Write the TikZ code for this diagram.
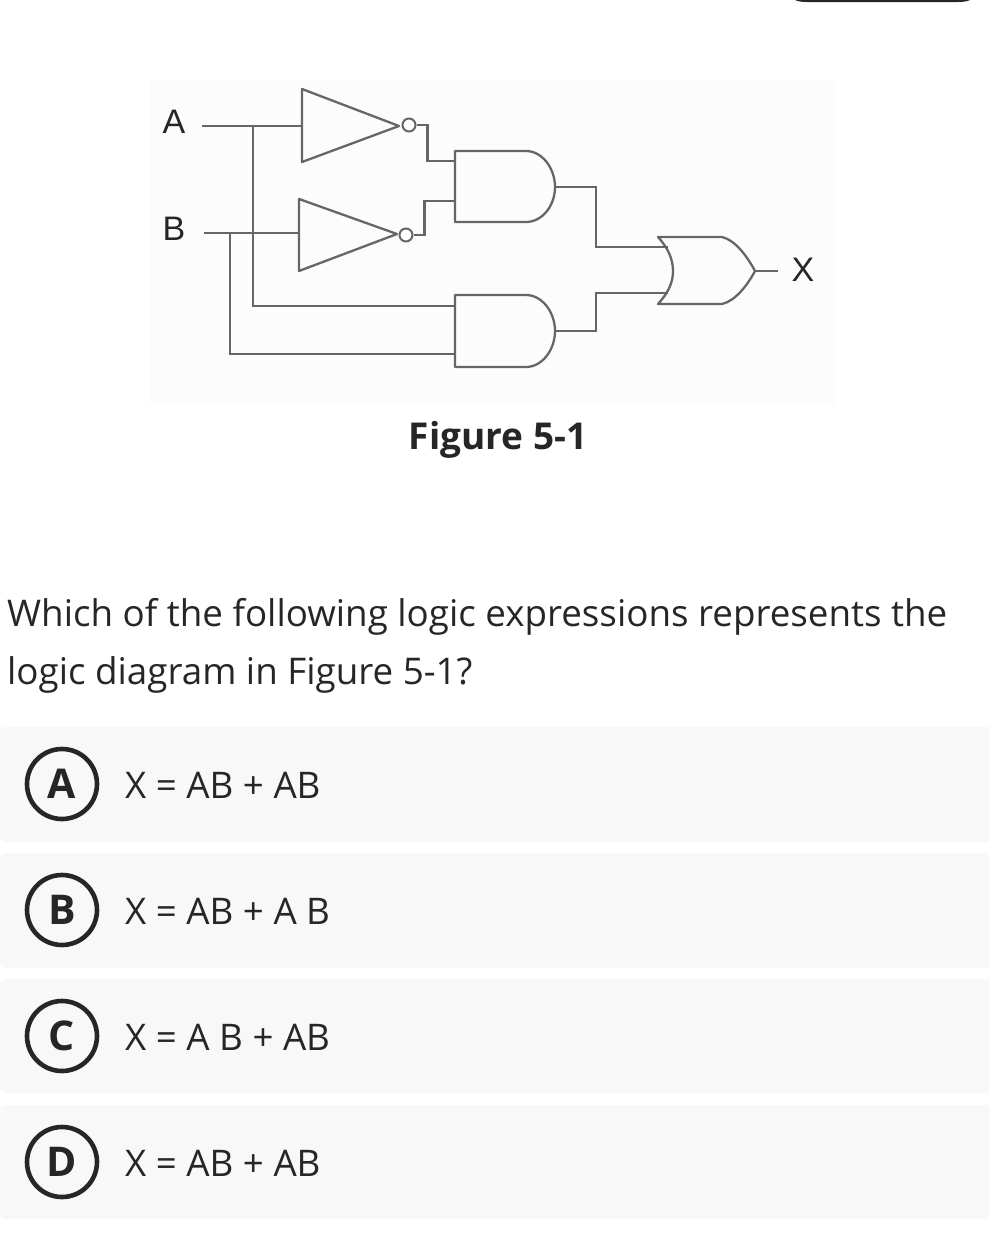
\documentclass[tikz,border=0pt]{standalone}
\usepackage{fontspec}
\setmainfont{Open Sans}
\newfontfamily\gatefont{Liberation Sans}
\newcommand{\fsz}[1]{\fontsize{#1}{#1}\selectfont}
\definecolor{wirec}{HTML}{666666}
\definecolor{inkc}{HTML}{262626}
\definecolor{rowc}{HTML}{F8F8F8}
\definecolor{figbg}{HTML}{FCFCFC}
\tikzset{
  x=1pt,y=-1pt,
  wire/.style={draw=wirec,line width=2.5pt,line join=miter},
  gate/.style={draw=wirec,line width=2.3pt,line join=round},
  bubble/.style={circle,draw=wirec,fill=white,line width=2pt,minimum size=13pt,inner sep=0pt},
  siglabel/.style={text=inkc,font=\gatefont\fsz{34},inner sep=0pt},
  rowbox/.style={fill=rowc,rounded corners=5pt},
  badge/.style={circle,draw=inkc,line width=4.6pt,minimum size=70pt,inner sep=0pt,text=inkc,font=\bfseries\fsz{41}},
  opt/.style={anchor=base west,text=inkc,font=\fsz{36.7},inner sep=0pt},
  para/.style={anchor=base west,text=inkc,font=\fsz{36.75},inner sep=0pt},
}
\begin{document}
\begin{tikzpicture}
\useasboundingbox (0,0) rectangle (988,1237);
\fill[white] (0,0) rectangle (988,1237);
% top bar
\fill[inkc] (795,0) .. controls (798,1.5) and (802,2) .. (807,2) -- (958,2) .. controls (963,2) and (967,1.5) .. (970,0) -- cycle;
% figure background
\fill[figbg] (150,80) rectangle (836,405);
% named points
\coordinate (Aend) at (202,126);
\coordinate (Aj) at (253,126);
\coordinate (Aturn) at (253,306);
\coordinate (Bend) at (204,233);
\coordinate (Bj) at (230,233);
\coordinate (Bturn) at (230,354);
\coordinate (N1in) at (302,126);
\coordinate (N2in) at (299,233);
\coordinate (G1a) at (455,161);
\coordinate (G1b) at (455,201);
\coordinate (G2a) at (455,306);
\coordinate (G2b) at (455,354);
\coordinate (G1o) at (555,187);
\coordinate (G2o) at (555,331);
\coordinate (ORa) at (668,247);
\coordinate (ORb) at (668,293);
\coordinate (ORo) at (755,271);
\coordinate (Xend) at (778,271);
% gates
\draw[gate] (N1in |- 0,89) -- (N1in |- 0,162) -- (399,126) -- cycle;
\draw[gate] (N2in |- 0,199) -- (N2in |- 0,271) -- (397,234) -- cycle;
\draw[gate] (455,151) -- (526,151) .. controls (542,151) and (555,168) .. (G1o) .. controls (555,206) and (542,222) .. (526,222) -- (455,222) -- cycle;
\draw[gate] (455,295) -- (526,295) .. controls (542,295) and (555,312) .. (G2o) .. controls (555,350) and (542,367) .. (526,367) -- (455,367) -- cycle;
\draw[gate] (658,237) -- (722,237) .. controls (735,240) and (747,256) .. (ORo) .. controls (747,286) and (735,301) .. (722,304) -- (658,304) .. controls (668,293) and (673,283) .. (673,271) .. controls (673,259) and (668,248) .. (658,237) -- cycle;
\node[bubble] (n1) at (409,125) {};
\node[bubble] (n2) at (406,235) {};
% wires
\draw[wire] (Aend) -- (N1in);
\draw[wire] (Bend) -- (N2in);
\draw[wire] (Aj) -- (Aturn) -- (G2a);
\draw[wire] (Bj) -- (Bturn) -- (G2b);
\draw[wire] (n1.east) -- ++(11,0) coordinate (t1) -- (t1 |- G1a) -- (G1a);
\draw[wire] (n2.east) -- ++(11,0) coordinate (t2) -- (t2 |- G1b) -- (G1b);
\draw[wire] (G1o) -- (596,187) coordinate (t3) -- (t3 |- ORa) -- (ORa);
\draw[wire] (G2o) -- (596,331) coordinate (t4) -- (t4 |- ORb) -- (ORb);
\draw[wire,line width=1.8pt] (ORo) -- (Xend);
% labels
\node[siglabel] (la) at (174,122) {A};
\node[siglabel] (lb) at (174,229) {B};
\node[siglabel] (lx) at (803,270) {X};
\node[anchor=base,text=inkc,font=\bfseries\fsz{37},inner sep=0pt] (fig) at (498,449) {Figure 5-1};
\node[para] (q1) at (7,626) {Which of the following logic expressions represents the};
\node[para] (q2) at (7,684) {logic diagram in Figure 5-1?};
% options
\fill[rowbox] (0,727) rectangle (1000,842);
\fill[rowbox] (0,853) rectangle (1000,968);
\fill[rowbox] (0,979) rectangle (1000,1093);
\fill[rowbox] (0,1105) rectangle (1000,1219);
\node[badge] (ba) at (62,784) {A};
\node[badge] (bb) at (62,910) {B};
\node[badge] (bc) at (62,1036) {C};
\node[badge] (bd) at (62,1162) {D};
\node[opt] (oa) at (125,798) {X = AB + AB};
\node[opt] (ob) at (125,924) {X = AB + A B};
\node[opt] (oc) at (125,1050) {X = A B + AB};
\node[opt] (od) at (125,1176) {X = AB + AB};
\end{tikzpicture}
\end{document}
